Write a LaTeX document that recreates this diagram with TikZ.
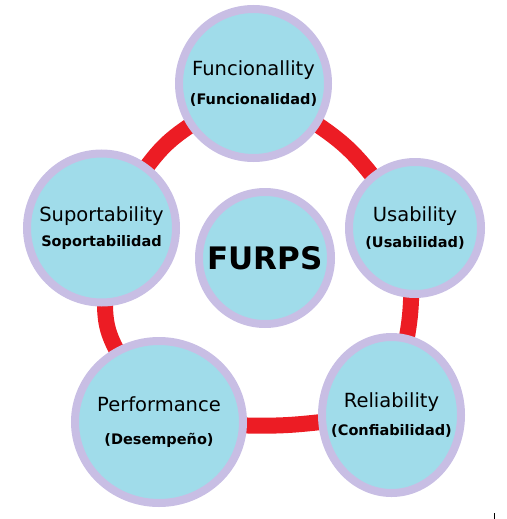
\documentclass[tikz,border=0pt]{standalone}
\usepackage{fontspec}
\setmainfont{DejaVu Sans}
\usepackage{tikz}
\usetikzlibrary{shapes.geometric,backgrounds}
\definecolor{lavender}{RGB}{200,190,228}
\definecolor{skyfill}{RGB}{160,220,234}
\definecolor{ringred}{RGB}{236,28,36}
\newcommand{\titlef}{\fontsize{19.5}{23}\selectfont}
\newcommand{\subline}[1]{{\bfseries\fontsize{14.5}{17}\selectfont #1}}
\tikzset{
  bubble/.style={ellipse, draw=lavender, line width=8pt, fill=skyfill,
    align=center, inner xsep=-30pt, inner ysep=-20pt, font=\titlef},
  ring/.style={draw=ringred, line width=16pt, shorten <=-6pt, shorten >=-6pt},
}

\begin{document}
\begin{tikzpicture}[x=1pt,y=-1pt]
        \useasboundingbox (0,0) rectangle (506,519);
        \node[bubble, minimum width=149pt, minimum height=149pt] (fun) at (253.5,83.5) {Funcionallity\\[6pt]\subline{(Funcionalidad)}};
        \node[bubble, minimum width=149pt, minimum height=149pt] (sup) at (101.5,228) {Suportability\\[2pt]\subline{Soportabilidad}};
        \node[bubble, minimum width=132pt, minimum height=132pt] (usa) at (415,228) {Usability\\[3pt]\subline{(Usabilidad)}};
        \node[bubble, minimum width=139pt, minimum height=156pt] (rel) at (391.5,415) {Reliability\\[5pt]\subline{(Confiabilidad)}};
        \node[bubble, minimum width=168pt, minimum height=162pt] (per) at (159,422) {Performance\\[10pt]\subline{(Desempeño)}};
        \node[bubble, minimum width=132pt, minimum height=132pt, font=\bfseries\fontsize{31}{36}\selectfont] (furps) at (265,258) {\raisebox{-5pt}{FURPS}};
        % red ring behind the bubbles
        \begin{scope}[on background layer]
        \draw[ring] (fun) to[bend left=9] (usa);
        \draw[ring] (usa) to[bend left=4] (rel);
        \draw[ring] (rel) to[bend left=4] (per);
        \draw[ring] (per) to[bend left=14] (sup);
        \draw[ring] (sup) to[bend left=10] (fun);
        \end{scope}
        \draw[line width=1pt] (494,513) -- (494,519);
\end{tikzpicture}
\end{document}
